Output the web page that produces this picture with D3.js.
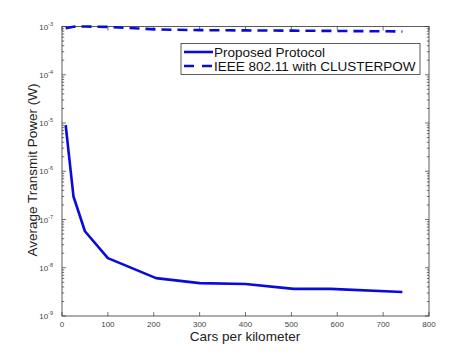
<!DOCTYPE html>
<html><head><meta charset="utf-8">
<script src="https://cdn.jsdelivr.net/npm/d3@7/dist/d3.min.js"></script>
<style>body{margin:0;background:#fff}</style>
</head><body>
<svg id="c" width="474" height="355"></svg>
<script>
const cars = [8, 25, 50, 100, 205, 300, 400, 505, 585, 742];
const proposed = [9e-6, 3e-7, 5.7e-8, 1.58e-8, 6.1e-9, 4.8e-9, 4.6e-9, 3.65e-9, 3.65e-9, 3.15e-9];
const clusterpow = [9.2e-4, 9.9e-4, 1.0e-3, 9.8e-4, 8.7e-4, 8.4e-4, 8.3e-4, 8.2e-4, 8.1e-4, 7.9e-4];
const xTicks = [0, 100, 200, 300, 400, 500, 600, 700, 800];
const yTickExp = [-9, -8, -7, -6, -5, -4, -3];
const seriesNames = ["Proposed Protocol", "IEEE 802.11 with CLUSTERPOW"];

const svg = d3.select("#c");
const L = 62, R = 429, T = 26.5, B = 316;
const x = d3.scaleLinear().domain([0, 800]).range([L, R]);
const y = d3.scaleLog().domain([1e-9, 1e-3]).range([B, T]);
const axisCol = "#333", textCol = "#444", blue = "#0a0adc";
const font = "Liberation Sans, Arial, sans-serif";

svg.append("rect").attr("x", L).attr("y", T).attr("width", R - L).attr("height", B - T)
  .attr("fill", "none").attr("stroke", axisCol).attr("stroke-width", 0.8);

const g = svg.append("g").attr("stroke", axisCol).attr("stroke-width", 0.7);
xTicks.forEach(v => {
  g.append("line").attr("x1", x(v)).attr("x2", x(v)).attr("y1", B).attr("y2", B - 4);
  g.append("line").attr("x1", x(v)).attr("x2", x(v)).attr("y1", T).attr("y2", T + 4);
});
yTickExp.forEach(e => {
  const v = Math.pow(10, e);
  g.append("line").attr("x1", L).attr("x2", L + 4).attr("y1", y(v)).attr("y2", y(v));
  g.append("line").attr("x1", R).attr("x2", R - 4).attr("y1", y(v)).attr("y2", y(v));
  if (e < -3) for (let m = 2; m <= 9; m++) {
    const vv = m * v;
    g.append("line").attr("x1", L).attr("x2", L + 2.2).attr("y1", y(vv)).attr("y2", y(vv));
    g.append("line").attr("x1", R).attr("x2", R - 2.2).attr("y1", y(vv)).attr("y2", y(vv));
  }
});

svg.append("g").selectAll("text").data(xTicks).join("text")
  .attr("x", d => x(d)).attr("y", B + 11).attr("text-anchor", "middle")
  .attr("font-family", font).attr("font-size", 8).attr("fill", textCol).text(d => d);

const yl = svg.append("g").selectAll("text").data(yTickExp).join("text")
  .attr("x", L - 9).attr("y", d => y(Math.pow(10, d)) + 3).attr("text-anchor", "end")
  .attr("font-family", font).attr("font-size", 8).attr("fill", textCol);
yl.append("tspan").text("10");
yl.append("tspan").attr("dy", -4).attr("font-size", 5.5).text(d => d);

svg.append("text").attr("x", 245).attr("y", 341).attr("text-anchor", "middle")
  .attr("font-family", font).attr("font-size", 13.5).attr("fill", "#222").text("Cars per kilometer");
svg.append("text").attr("transform", `translate(37,170) rotate(-90)`).attr("text-anchor", "middle")
  .attr("font-family", font).attr("font-size", 13.5).attr("fill", "#222").text("Average Transmit Power (W)");

const line = d3.line().x(d => x(d[0])).y(d => y(d[1]));
svg.append("path").datum(cars.map((c, i) => [c, proposed[i]])).attr("d", line)
  .attr("fill", "none").attr("stroke", blue).attr("stroke-width", 2.6).attr("stroke-linejoin", "round");
svg.append("path").datum(cars.map((c, i) => [c, clusterpow[i]])).attr("d", line)
  .attr("fill", "none").attr("stroke", blue).attr("stroke-width", 2.6).attr("stroke-dasharray", "10,6");

const lx = 181, ly = 43.5, lw = 239, lh = 31;
svg.append("rect").attr("x", lx).attr("y", ly).attr("width", lw).attr("height", lh)
  .attr("fill", "#fff").attr("stroke", axisCol).attr("stroke-width", 0.8);
seriesNames.forEach((n, i) => {
  const yy = ly + 8.5 + i * 14;
  svg.append("line").attr("x1", lx + 3).attr("x2", lx + 32).attr("y1", yy).attr("y2", yy)
    .attr("stroke", blue).attr("stroke-width", 2.6).attr("stroke-dasharray", i ? "10,8" : null);
  svg.append("text").attr("x", lx + 33).attr("y", yy + 4.8).attr("font-family", font)
    .attr("font-size", 13.5).attr("fill", "#111").text(n);
});
</script>
</body></html>
